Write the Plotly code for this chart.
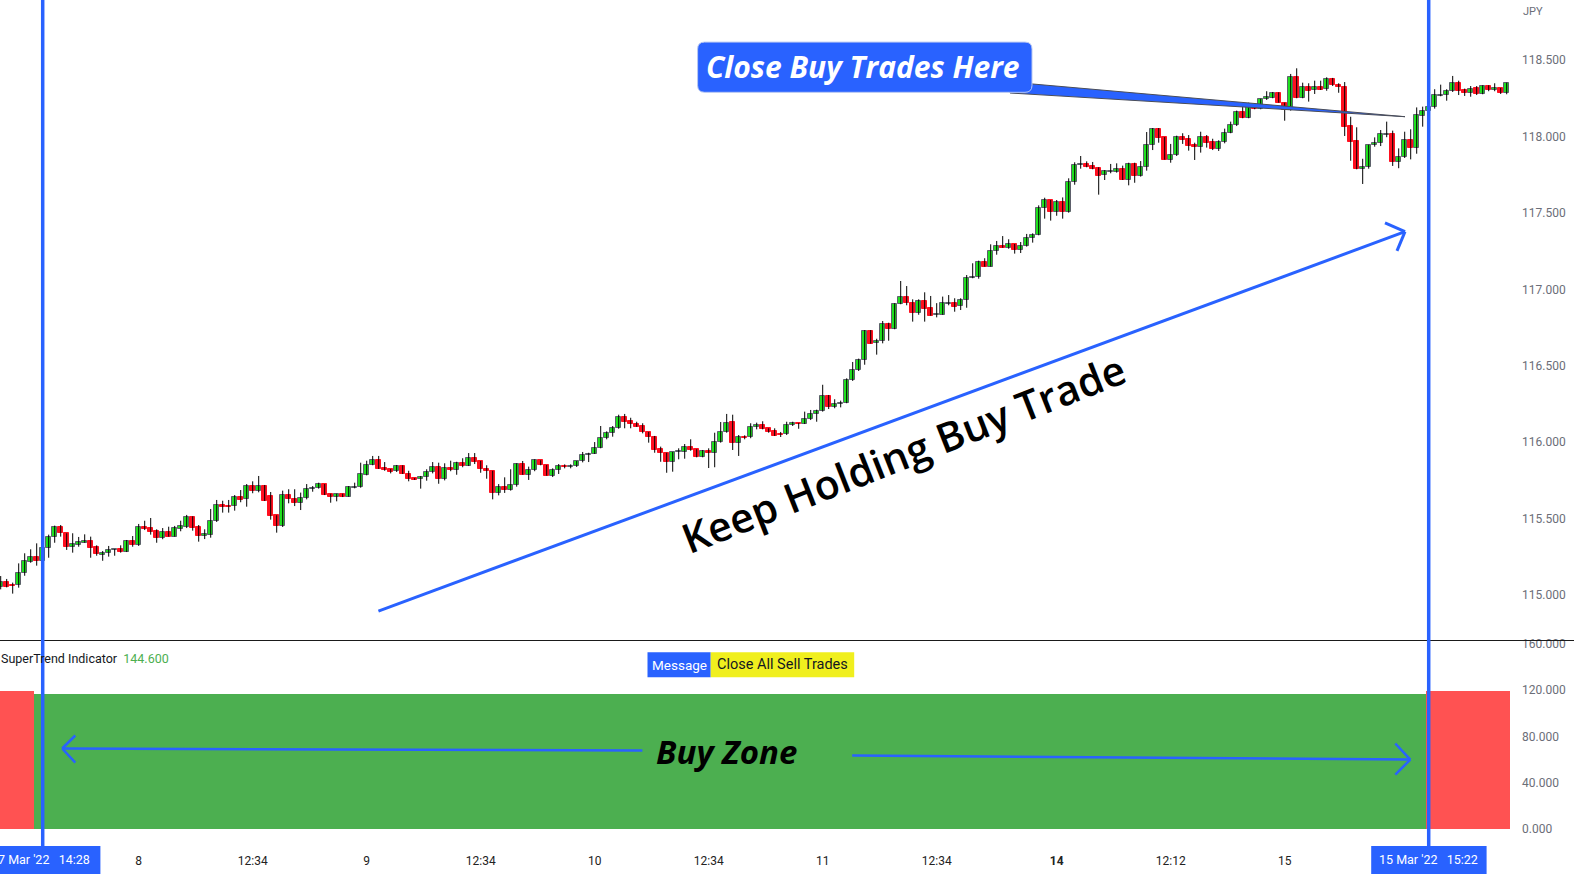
import plotly.graph_objects as go

# ---------------- data (USDJPY candles) ----------------
open_ = [
    115.050, 115.083, 115.063, 115.063, 115.142, 115.216, 115.247, 115.224, 115.306, 115.382,
    115.447, 115.404, 115.316, 115.330, 115.342, 115.351, 115.314, 115.264, 115.273, 115.293,
    115.299, 115.283, 115.351, 115.329, 115.445, 115.438, 115.419, 115.375, 115.410, 115.382,
    115.434, 115.447, 115.509, 115.445, 115.388, 115.395, 115.482, 115.587, 115.583, 115.581,
    115.639, 115.626, 115.711, 115.683, 115.711, 115.648, 115.522, 115.454, 115.652, 115.628,
    115.604, 115.633, 115.692, 115.698, 115.726, 115.663, 115.643, 115.659, 115.643, 115.702,
    115.705, 115.787, 115.849, 115.884, 115.831, 115.825, 115.810, 115.844, 115.794, 115.766,
    115.759, 115.774, 115.803, 115.836, 115.761, 115.831, 115.820, 115.862, 115.846, 115.895,
    115.877, 115.825, 115.813, 115.670, 115.705, 115.689, 115.718, 115.855, 115.787, 115.818,
    115.882, 115.851, 115.781, 115.818, 115.844, 115.840, 115.842, 115.877, 115.914, 115.923,
    115.960, 116.026, 116.058, 116.095, 116.163, 116.141, 116.121, 116.106, 116.067, 116.034,
    115.956, 115.931, 115.872, 115.934, 115.936, 115.967, 115.954, 115.905, 115.942, 115.927,
    115.999, 116.069, 116.132, 115.993, 116.032, 116.032, 116.097, 116.111, 116.091, 116.073,
    116.052, 116.052, 116.113, 116.126, 116.121, 116.152, 116.185, 116.204, 116.302, 116.228,
    116.248, 116.255, 116.407, 116.473, 116.536, 116.728, 116.647, 116.660, 116.774, 116.739,
    116.903, 116.950, 116.911, 116.848, 116.924, 116.878, 116.830, 116.834, 116.906, 116.911,
    116.891, 116.929, 117.073, 117.079, 117.177, 117.149, 117.249, 117.284, 117.273, 117.297,
    117.260, 117.282, 117.334, 117.354, 117.531, 117.585, 117.509, 117.572, 117.509, 117.701,
    117.812, 117.821, 117.808, 117.793, 117.747, 117.770, 117.770, 117.786, 117.718, 117.821,
    117.744, 117.799, 117.943, 118.048, 117.995, 117.849, 117.880, 117.997, 117.984, 117.945,
    117.930, 117.995, 117.965, 117.921, 117.967, 118.026, 118.076, 118.159, 118.124, 118.205,
    118.183, 118.248, 118.255, 118.284, 118.222, 118.174, 118.388, 118.255, 118.327, 118.303,
    118.323, 118.310, 118.375, 118.340, 118.323, 118.069, 117.969, 117.786, 117.799, 117.943,
    117.956, 118.009, 118.015, 117.836, 117.869, 117.978, 117.928, 118.137, 118.166, 118.192,
    118.268, 118.270, 118.297, 118.349, 118.305, 118.288, 118.316, 118.277, 118.331, 118.305,
    118.318, 118.284,
]
high = [
    115.124, 115.105, 115.081, 115.207, 115.273, 115.299, 115.338, 115.342, 115.395, 115.454,
    115.458, 115.404, 115.404, 115.380, 115.397, 115.382, 115.325, 115.288, 115.321, 115.301,
    115.325, 115.360, 115.386, 115.465, 115.486, 115.504, 115.430, 115.438, 115.447, 115.452,
    115.486, 115.524, 115.515, 115.458, 115.430, 115.563, 115.622, 115.617, 115.622, 115.654,
    115.687, 115.726, 115.744, 115.779, 115.720, 115.674, 115.522, 115.683, 115.692, 115.692,
    115.670, 115.726, 115.713, 115.735, 115.726, 115.663, 115.663, 115.663, 115.713, 115.735,
    115.866, 115.879, 115.910, 115.910, 115.870, 115.825, 115.851, 115.849, 115.813, 115.766,
    115.779, 115.823, 115.870, 115.866, 115.862, 115.879, 115.872, 115.895, 115.929, 115.929,
    115.877, 115.849, 115.813, 115.726, 115.770, 115.823, 115.862, 115.877, 115.840, 115.888,
    115.882, 115.851, 115.829, 115.857, 115.855, 115.855, 115.877, 115.936, 115.931, 116.001,
    116.106, 116.071, 116.106, 116.180, 116.185, 116.160, 116.134, 116.124, 116.067, 116.041,
    115.971, 115.931, 115.936, 115.960, 115.988, 116.019, 115.954, 115.949, 115.960, 116.062,
    116.132, 116.185, 116.180, 116.047, 116.045, 116.124, 116.128, 116.137, 116.091, 116.091,
    116.067, 116.134, 116.134, 116.126, 116.200, 116.211, 116.213, 116.376, 116.309, 116.281,
    116.272, 116.418, 116.525, 116.547, 116.734, 116.734, 116.677, 116.793, 116.782, 116.910,
    117.055, 117.022, 116.935, 116.935, 116.981, 116.957, 116.910, 116.953, 116.963, 116.942,
    116.942, 117.094, 117.171, 117.188, 117.204, 117.295, 117.317, 117.349, 117.328, 117.297,
    117.310, 117.363, 117.367, 117.550, 117.600, 117.585, 117.585, 117.602, 117.727, 117.832,
    117.873, 117.838, 117.834, 117.799, 117.781, 117.821, 117.825, 117.810, 117.829, 117.829,
    117.840, 118.030, 118.056, 118.056, 117.997, 117.952, 118.006, 118.022, 118.010, 117.960,
    118.032, 118.010, 117.986, 117.976, 118.052, 118.098, 118.170, 118.214, 118.222, 118.218,
    118.248, 118.297, 118.292, 118.290, 118.222, 118.410, 118.447, 118.353, 118.349, 118.366,
    118.366, 118.388, 118.384, 118.349, 118.357, 118.130, 118.061, 117.855, 117.947, 117.995,
    118.043, 118.098, 118.039, 117.923, 118.032, 118.048, 118.191, 118.196, 118.257, 118.310,
    118.340, 118.310, 118.397, 118.366, 118.314, 118.331, 118.331, 118.336, 118.336, 118.349,
    118.318, 118.353,
]
low = [
    115.037, 115.050, 115.009, 115.048, 115.126, 115.211, 115.192, 115.201, 115.244, 115.342,
    115.382, 115.295, 115.277, 115.316, 115.342, 115.244, 115.257, 115.224, 115.251, 115.257,
    115.277, 115.281, 115.316, 115.321, 115.425, 115.395, 115.342, 115.365, 115.382, 115.382,
    115.417, 115.438, 115.421, 115.349, 115.366, 115.375, 115.478, 115.539, 115.539, 115.552,
    115.607, 115.578, 115.666, 115.672, 115.615, 115.493, 115.408, 115.445, 115.600, 115.582,
    115.556, 115.626, 115.676, 115.696, 115.654, 115.604, 115.613, 115.641, 115.643, 115.698,
    115.702, 115.783, 115.849, 115.825, 115.813, 115.796, 115.805, 115.792, 115.744, 115.753,
    115.696, 115.748, 115.796, 115.728, 115.750, 115.810, 115.787, 115.836, 115.844, 115.857,
    115.800, 115.761, 115.626, 115.652, 115.668, 115.683, 115.709, 115.787, 115.753, 115.810,
    115.849, 115.781, 115.772, 115.792, 115.829, 115.829, 115.838, 115.868, 115.870, 115.923,
    115.960, 116.019, 116.036, 116.088, 116.091, 116.091, 116.101, 116.058, 115.997, 115.931,
    115.872, 115.800, 115.807, 115.888, 115.892, 115.944, 115.901, 115.901, 115.831, 115.836,
    115.997, 116.062, 115.949, 115.910, 116.019, 116.026, 116.084, 116.084, 116.062, 116.041,
    116.034, 116.047, 116.106, 116.088, 116.119, 116.145, 116.134, 116.200, 116.217, 116.222,
    116.228, 116.255, 116.401, 116.466, 116.507, 116.645, 116.573, 116.647, 116.664, 116.739,
    116.903, 116.896, 116.789, 116.834, 116.789, 116.828, 116.817, 116.834, 116.896, 116.854,
    116.865, 116.880, 117.073, 117.070, 117.149, 117.149, 117.227, 117.273, 117.266, 117.234,
    117.238, 117.280, 117.306, 117.354, 117.463, 117.450, 117.482, 117.463, 117.502, 117.685,
    117.790, 117.799, 117.786, 117.620, 117.716, 117.760, 117.764, 117.716, 117.681, 117.698,
    117.738, 117.777, 117.912, 117.960, 117.849, 117.829, 117.873, 117.952, 117.908, 117.847,
    117.895, 117.928, 117.912, 117.906, 117.956, 118.022, 118.069, 118.120, 118.120, 118.179,
    118.179, 118.240, 118.251, 118.222, 118.104, 118.170, 118.251, 118.251, 118.229, 118.279,
    118.305, 118.300, 118.331, 118.287, 118.004, 117.842, 117.786, 117.690, 117.790, 117.934,
    117.938, 117.996, 117.808, 117.793, 117.860, 117.851, 117.888, 118.065, 118.120, 118.183,
    118.264, 118.235, 118.292, 118.272, 118.266, 118.261, 118.272, 118.277, 118.297, 118.297,
    118.279, 118.277,
]
close = [
    115.083, 115.054, 115.061, 115.142, 115.221, 115.247, 115.224, 115.306, 115.382, 115.443,
    115.404, 115.316, 115.332, 115.345, 115.351, 115.310, 115.266, 115.273, 115.293, 115.299,
    115.283, 115.351, 115.329, 115.443, 115.434, 115.412, 115.375, 115.410, 115.382, 115.436,
    115.452, 115.509, 115.440, 115.388, 115.397, 115.482, 115.587, 115.578, 115.576, 115.639,
    115.624, 115.711, 115.683, 115.711, 115.615, 115.519, 115.454, 115.652, 115.626, 115.604,
    115.635, 115.694, 115.700, 115.726, 115.656, 115.643, 115.659, 115.643, 115.705, 115.709,
    115.792, 115.849, 115.882, 115.825, 115.820, 115.807, 115.844, 115.794, 115.759, 115.753,
    115.774, 115.805, 115.836, 115.761, 115.831, 115.820, 115.862, 115.846, 115.895, 115.870,
    115.822, 115.810, 115.668, 115.705, 115.689, 115.718, 115.855, 115.787, 115.818, 115.882,
    115.849, 115.781, 115.818, 115.842, 115.838, 115.842, 115.877, 115.914, 115.923, 115.960,
    116.026, 116.058, 116.095, 116.163, 116.134, 116.117, 116.101, 116.065, 116.032, 115.951,
    115.927, 115.872, 115.936, 115.940, 115.967, 115.949, 115.905, 115.942, 115.927, 115.999,
    116.069, 116.128, 115.993, 116.032, 116.028, 116.097, 116.111, 116.088, 116.069, 116.043,
    116.045, 116.113, 116.126, 116.119, 116.152, 116.185, 116.204, 116.302, 116.228, 116.250,
    116.257, 116.407, 116.473, 116.536, 116.728, 116.645, 116.662, 116.774, 116.739, 116.903,
    116.950, 116.909, 116.848, 116.924, 116.874, 116.828, 116.839, 116.911, 116.911, 116.887,
    116.929, 117.075, 117.079, 117.177, 117.149, 117.249, 117.282, 117.273, 117.295, 117.260,
    117.284, 117.336, 117.354, 117.533, 117.585, 117.509, 117.572, 117.509, 117.703, 117.814,
    117.821, 117.803, 117.788, 117.744, 117.775, 117.775, 117.786, 117.718, 117.821, 117.744,
    117.799, 117.943, 118.048, 117.993, 117.849, 117.880, 117.997, 117.980, 117.940, 117.930,
    117.995, 117.960, 117.921, 117.967, 118.026, 118.076, 118.159, 118.124, 118.205, 118.183,
    118.248, 118.257, 118.284, 118.222, 118.174, 118.388, 118.255, 118.327, 118.301, 118.323,
    118.305, 118.375, 118.336, 118.323, 118.065, 117.967, 117.786, 117.803, 117.943, 117.956,
    118.015, 118.015, 117.836, 117.869, 117.976, 117.928, 118.139, 118.166, 118.192, 118.270,
    118.274, 118.298, 118.349, 118.298, 118.288, 118.314, 118.277, 118.331, 118.305, 118.316,
    118.284, 118.349,
]

price_ticks = [115.0, 115.5, 116.0, 116.5, 117.0, 117.5, 118.0, 118.5]
st_ticks = [0, 40, 80, 120, 160]
time_tick_pos = [23, 42, 61, 80, 99, 118, 137, 156, 176, 195, 214]
time_tick_text = ["8", "12:34", "9", "12:34", "10", "12:34", "11", "12:34", "<b>14</b>", "12:12", "15"]

# SuperTrend zones (candle index ranges)
zone_start = [0, 6, 238]
zone_end = [5, 237, 251]
zone_value = [119.0, 116.4, 119.0]
zone_color = ["#ff5252", "#4caf50", "#ff5252"]

entry_idx, exit_idx = 7, 238
entry_label = "7 Mar '22   14:28"
exit_label = "15 Mar '22   15:22"

# ---------------- geometry ----------------
W, H = 1574, 874
ML, MR, MT, MB = 0, 62, 0, 29
PW, PH = W - ML - MR, H - MT - MB
SEP = 640.5


def px(x):
    return (x - ML) / PW


def py(y):
    return (PH - (y - MT)) / PH


BLUE = "#2962ff"
GREEN = "#1fe01f"
RED = "#ff0f1f"
EDGE = "#5d606b"

n = len(close)
idx = list(range(n))
hi = [max(h, o, c) for h, o, c in zip(high, open_, close)]
lo = [min(l, o, c) for l, o, c in zip(low, open_, close)]

base = [min(o, c) for o, c in zip(open_, close)]
length = [max(abs(c - o), 0.006) for o, c in zip(open_, close)]
fill = [GREEN if c >= o else RED for o, c in zip(open_, close)]
edge = [EDGE if c >= o else RED for o, c in zip(open_, close)]

wx, wy = [], []
for i in idx:
    wx += [i, i, None]
    wy += [lo[i], hi[i], None]

zx, zy, zc = [], [], []
for s, e, v, col in zip(zone_start, zone_end, zone_value, zone_color):
    for i in range(s, e + 1):
        zx.append(i)
        zy.append(v)
        zc.append(col)

fig = go.Figure()
fig.add_trace(go.Scatter(x=wx, y=wy, mode="lines", line=dict(color="#000000", width=1),
                         hoverinfo="skip", showlegend=False, xaxis="x", yaxis="y"))
fig.add_trace(go.Bar(x=idx, y=length, base=base, width=0.78,
                     marker=dict(color=fill, line=dict(color=edge, width=1)),
                     showlegend=False, xaxis="x", yaxis="y"))
fig.add_trace(go.Bar(x=zx, y=zy, width=1.0, marker=dict(color=zc, line=dict(width=0)),
                     showlegend=False, xaxis="x2", yaxis="y2"))

x_lo = (ML - 0.7) / 6.0
x_hi = (ML + PW - 0.7) / 6.0
y_top = 115 + 595 / 152.8
y_bot = 115 - (SEP - 595) / 152.8
lower_top = (828.8 - (SEP + 0.5)) / 46.2 * 40
lower_bot = -(845 - 828.8) / 46.2 * 40

axis_font = dict(family="Roboto", size=12, color="#6b6e78")
fig.update_layout(
    width=W, height=H,
    margin=dict(l=ML, r=MR, t=MT, b=MB, autoexpand=False),
    paper_bgcolor="white", plot_bgcolor="white",
    barmode="overlay", bargap=0,
    showlegend=False,
    xaxis=dict(domain=[0, 1], range=[x_lo, x_hi], showticklabels=False, showgrid=False,
               zeroline=False, showline=False, anchor="y", automargin=False),
    xaxis2=dict(domain=[0, 1], range=[x_lo, x_hi], matches="x", anchor="y2",
                tickvals=time_tick_pos, ticktext=time_tick_text, ticks="",
                showgrid=False, zeroline=False, showline=False, automargin=False,
                tickfont=dict(family="Roboto", size=12, color="#222222"),
                ticklabelstandoff=7),
    yaxis=dict(domain=[py(SEP), 1], range=[y_bot, y_top], side="right", anchor="x",
               tickvals=price_ticks, tickformat=".3f", ticks="", showgrid=False, automargin=False,
               zeroline=False, showline=False, tickfont=axis_font, ticklabelstandoff=9),
    yaxis2=dict(domain=[0, py(SEP + 0.5)], range=[lower_bot, lower_top], side="right",
                anchor="x2", tickvals=st_ticks, tickformat=".3f", ticks="", showgrid=False,
                automargin=False,
                zeroline=False, showline=False, tickfont=axis_font, ticklabelstandoff=9),
)

shapes = []
# pane separator
shapes.append(dict(type="line", xref="paper", yref="paper", x0=px(0), x1=px(W), y0=py(SEP), y1=py(SEP),
                   line=dict(color="#1a1a1a", width=1)))
# entry/exit vertical lines
for xi in (entry_idx, exit_idx):
    shapes.append(dict(type="line", xref="x", yref="paper", x0=xi, x1=xi, y0=py(846), y1=1,
                       line=dict(color=BLUE, width=3.5)))


def seg(x0, y0, x1, y1, w):
    shapes.append(dict(type="line", xref="paper", yref="paper", x0=px(x0), y0=py(y0),
                       x1=px(x1), y1=py(y1), line=dict(color=BLUE, width=w)))


# trend arrow
seg(378.4, 611.1, 1405, 231.7, 3)
seg(1405, 231.7, 1385, 222.8, 3)
seg(1405, 231.7, 1397, 250.9, 3)
# buy zone arrows
seg(642.4, 750.5, 62.2, 748.5, 2.5)
seg(62.2, 748.5, 75.3, 735.5, 2.5)
seg(62.2, 748.5, 75.3, 762.6, 2.5)
seg(852.2, 755.6, 1410.3, 759.6, 2.5)
seg(1410.3, 759.6, 1395.3, 743.5, 2.5)
seg(1410.3, 759.6, 1395.3, 774.6, 2.5)

# callout wedge
wedge = "M {} {} L {} {} L {} {} Z".format(px(1010), py(82), px(1405), py(116.7), px(1010), py(93))
shapes.append(dict(type="path", xref="paper", yref="paper", path=wedge, fillcolor=BLUE,
                   line=dict(color="#4a4d58", width=1)))


def rrect(x0, y0, x1, y1, r):
    rx, ry = r / PW, r / PH
    X0, X1, Y0, Y1 = px(x0), px(x1), py(y0), py(y1)
    return (f"M {X0+rx} {Y0} L {X1-rx} {Y0} Q {X1} {Y0} {X1} {Y0-ry} "
            f"L {X1} {Y1+ry} Q {X1} {Y1} {X1-rx} {Y1} L {X0+rx} {Y1} "
            f"Q {X0} {Y1} {X0} {Y1+ry} L {X0} {Y0-ry} Q {X0} {Y0} {X0+rx} {Y0} Z")


shapes.append(dict(type="path", xref="paper", yref="paper", path=rrect(697.6, 42.1, 1032, 92.3, 7),
                   fillcolor=BLUE, line=dict(color="#b9c8f2", width=1)))

# message boxes
shapes.append(dict(type="rect", xref="paper", yref="paper", x0=px(647.5), x1=px(710.7),
                   y0=py(677.3), y1=py(652.2), fillcolor=BLUE, line=dict(width=0)))
shapes.append(dict(type="rect", xref="paper", yref="paper", x0=px(710.7), x1=px(854.2),
                   y0=py(677.3), y1=py(652.2), fillcolor="#f0ef1e", line=dict(width=0)))

# date boxes on time axis
shapes.append(dict(type="rect", xref="paper", yref="paper", x0=px(-15), x1=px(100.4),
                   y0=py(880), y1=py(846), fillcolor=BLUE, line=dict(width=0)))
shapes.append(dict(type="rect", xref="paper", yref="paper", x0=px(1371.2), x1=px(1486.6),
                   y0=py(880), y1=py(846), fillcolor=BLUE, line=dict(width=0)))

annotations = [
    dict(text="Close Buy Trades Here", xref="paper", yref="paper", x=px(863), y=py(66.5),
         showarrow=False, xanchor="center", yanchor="middle",
         font=dict(family="Open Sans", size=30, color="white", weight="bold", style="italic")),
    dict(text="Keep Holding Buy Trade", xref="paper", yref="paper", x=px(903.4), y=py(453.5),
         showarrow=False, xanchor="center", yanchor="middle", textangle=-21.5,
         font=dict(family="Open Sans", size=41, color="#000000", weight=600)),
    dict(text="Buy Zone", xref="paper", yref="paper", x=px(726.8), y=py(751.5),
         showarrow=False, xanchor="center", yanchor="middle",
         font=dict(family="Open Sans", size=33, color="#000000", weight="bold", style="italic")),
    dict(text="SuperTrend Indicator  <span style='color:#4caf50'>144.600</span>", xref="paper",
         yref="paper", x=px(-1.5), y=py(658.6), showarrow=False, xanchor="left", yanchor="middle",
         font=dict(family="Roboto", size=12.5, color="#131722")),
    dict(text="Message", xref="paper", yref="paper", x=px(679.1), y=py(664.7), showarrow=False,
         xanchor="center", yanchor="middle", font=dict(family="Roboto", size=13.5, color="white")),
    dict(text="Close All Sell Trades", xref="paper", yref="paper", x=px(782.5), y=py(664.7),
         showarrow=False, xanchor="center", yanchor="middle",
         font=dict(family="Roboto", size=14.5, color="#131722")),
    dict(text=entry_label, xref="paper", yref="paper", x=px(44), y=py(859.5), showarrow=False,
         xanchor="center", yanchor="middle", font=dict(family="Roboto", size=12.5, color="white")),
    dict(text=exit_label, xref="paper", yref="paper", x=px(1428.9), y=py(859.5), showarrow=False,
         xanchor="center", yanchor="middle", font=dict(family="Roboto", size=12.5, color="white")),
    dict(text="JPY", xref="paper", yref="paper", x=px(1521), y=py(11), showarrow=False,
         xanchor="left", yanchor="middle", font=dict(family="Roboto", size=11, color="#6b6e78")),
]

fig.update_layout(shapes=shapes, annotations=annotations)
fig.write_html("out.html")
